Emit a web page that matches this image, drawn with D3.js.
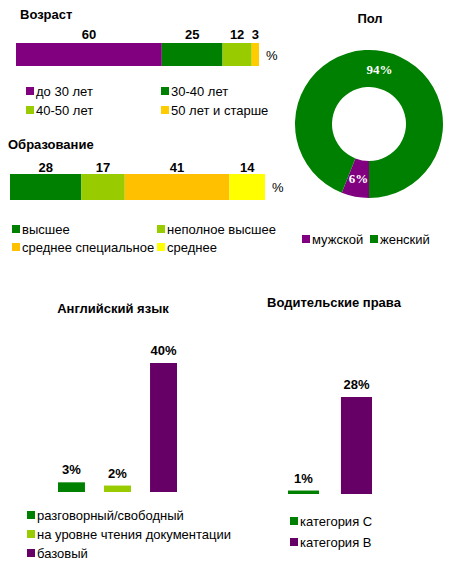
<!DOCTYPE html>
<html>
<head>
<meta charset="utf-8">
<script src="https://d3js.org/d3.v7.min.js"></script>
<style>
  body { margin: 0; background: #fff; }
  svg { display: block; font-family: "Liberation Sans", Arial, sans-serif; }
</style>
</head>
<body>
<div id="chart"></div>
<script>
// возраст
var ageLabels = ["до 30 лет", "30-40  лет", "40-50  лет", "50 лет и старше"]
var ageValues = [60, 25, 12, 3]
var ageColors = ["#800080", "#008000", "#99cc00", "#ffcc00"]

// образование
var eduLabels = ["высшее", "неполное высшее", "среднее специальное", "среднее"]
var eduValues = [28, 17, 41, 14]
var eduColors = ["#008000", "#99cc00", "#ffc000", "#ffff00"]

// пол
var sexLabels = ["мужской", "женский"]
var sexValues = [6, 94]
var sexColors = ["#800080", "#008000"]

// английский
var engLabels = ["разговорный/свободный", "на уровне чтения документации", "базовый"]
var engValues = [3, 2, 40]
var engColors = ["#008000", "#99cc00", "#660066"]

// права
var drvLabels = ["категория С", "категория В"]
var drvValues = [1, 28]
var drvColors = ["#008000", "#660066"]

var svg = d3.select("#chart").append("svg")
    .attr("width", 453)
    .attr("height", 574)

function title(txt, x, y, anchor) {
    svg.append("text")
        .attr("x", x).attr("y", y)
        .attr("text-anchor", anchor || "start")
        .style("font-size", "13px")
        .style("font-weight", "bold")
        .text(txt)
}

function legend(labels, colors, positions) {
    labels.forEach((lab, i) => {
        var p = positions[i]
        svg.append("rect")
            .attr("x", p[0]).attr("y", p[1] - 4)
            .attr("width", 8).attr("height", 8)
            .style("fill", colors[i])
        svg.append("text")
            .attr("x", p[0] + 10).attr("y", p[1] + 4.5)
            .style("font-size", "13px")
            .text(lab)
    })
}

function stackedBar(values, colors, x0, x1, y0, h, labelY, pctX) {
    var x = d3.scaleLinear().domain([0, d3.sum(values)]).range([x0, x1])
    var starts = d3.cumsum([0].concat(values))
    var g = svg.append("g")
    g.selectAll("rect")
        .data(values)
        .enter()
        .append("rect")
        .attr("x", (d, i) => x(starts[i]))
        .attr("y", y0)
        .attr("width", (d, i) => x(starts[i] + d) - x(starts[i]))
        .attr("height", h)
        .style("fill", (d, i) => colors[i])
    g.selectAll("text.lbl")
        .data(values)
        .enter()
        .append("text")
        .attr("class", "lbl")
        .attr("x", (d, i) => (x(starts[i]) + x(starts[i] + d)) / 2)
        .attr("y", labelY)
        .attr("text-anchor", "middle")
        .style("font-size", "13px")
        .style("font-weight", "bold")
        .text((d) => d)
    svg.append("text")
        .attr("x", pctX).attr("y", y0 + h / 2 + 5)
        .style("font-size", "13px")
        .text("%")
}

function columns(values, colors, x0, x1, bottom, top, maxVal) {
    var x = d3.scaleBand().domain(d3.range(values.length))
        .range([x0, x1]).paddingInner(0.414).paddingOuter(0)
    var y = d3.scaleLinear().domain([0, maxVal]).range([bottom, top])
    var g = svg.append("g")
    g.selectAll("rect")
        .data(values)
        .enter()
        .append("rect")
        .attr("x", (d, i) => x(i))
        .attr("y", (d) => y(d))
        .attr("width", x.bandwidth())
        .attr("height", (d) => bottom - y(d))
        .style("fill", (d, i) => colors[i])
    g.selectAll("text")
        .data(values)
        .enter()
        .append("text")
        .attr("x", (d, i) => x(i) + x.bandwidth() / 2)
        .attr("y", (d) => y(d) - 8)
        .attr("text-anchor", "middle")
        .style("font-size", "13px")
        .style("font-weight", "bold")
        .text((d) => d + "%")
}

// Возраст
title("Возраст", 20, 19)
stackedBar(ageValues, ageColors, 16, 259, 43, 23, 39, 266)
legend(ageLabels, ageColors, [[26, 91], [161, 91], [26, 110], [161, 110]])

// Образование
title("Образование", 8, 149)
stackedBar(eduValues, eduColors, 10, 265, 174, 26, 172, 272)
legend(eduLabels, eduColors, [[12, 229], [157, 229], [12, 247], [157, 247]])

// Пол
title("Пол", 370, 23, "middle")
var pie = d3.pie().sort(null).startAngle(Math.PI).endAngle(3 * Math.PI)
var arc = d3.arc().innerRadius(37).outerRadius(74)
var pg = svg.append("g").attr("transform", "translate(369,124)")
var arcs = pie(sexValues)
pg.selectAll("path")
    .data(arcs)
    .enter()
    .append("path")
    .attr("d", arc)
    .style("fill", (d, i) => sexColors[i])
pg.selectAll("text")
    .data(arcs)
    .enter()
    .append("text")
    .attr("transform", (d) => "translate(" + arc.centroid(d) + ")")
    .attr("dy", "0.35em")
    .attr("text-anchor", "middle")
    .style("font-family", "'Liberation Serif', serif")
    .style("font-size", "13px")
    .style("font-weight", "bold")
    .style("fill", "#fff")
    .text((d) => d.data + "%")
legend(sexLabels, sexColors, [[302, 239], [370, 239]])

// Английский язык
title("Английский язык", 113, 313, "middle")
columns(engValues, engColors, 58, 177, 492, 363, 40)
legend(engLabels, engColors, [[27, 515], [27, 534], [27, 553]])

// Водительские права
title("Водительские права", 267, 307)
columns(drvValues, drvColors, 288, 372, 494, 397, 28)
legend(drvLabels, drvColors, [[290, 521], [290, 542]])
</script>
</body>
</html>
